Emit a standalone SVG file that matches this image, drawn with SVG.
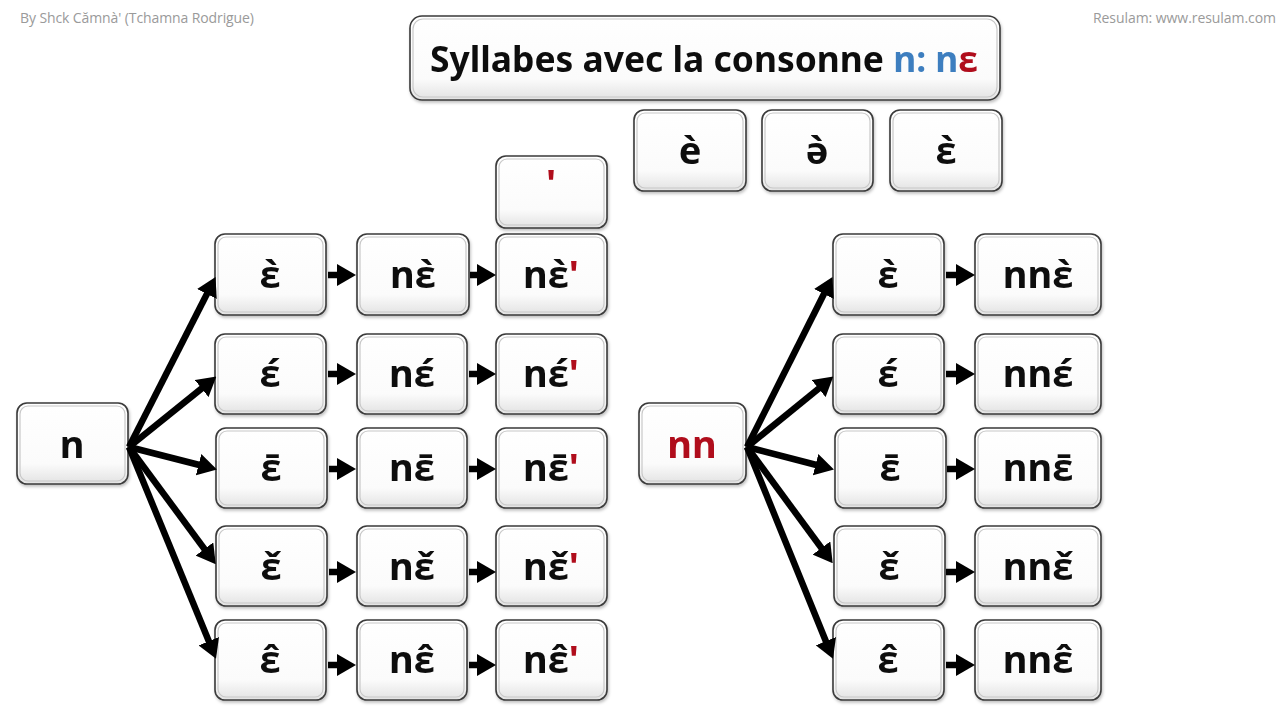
<svg xmlns="http://www.w3.org/2000/svg" width="1280" height="720" viewBox="0 0 1280 720">
<style>
.bx rect.o{fill:url(#g);stroke:#3a3a3a;stroke-width:1.6}
.bx rect.i{fill:none;stroke:#c8c8c8;stroke-width:1.2}
.t{font-family:"Noto Sans","DejaVu Sans",sans-serif;font-weight:bold;font-size:38px;fill:#111;text-anchor:middle}
.r{fill:#b0101e}
.b{fill:#3d7ebf}
.cr{font-family:"Open Sans","Liberation Sans",sans-serif;font-size:14px;fill:#9a9a9a}
.ar line{stroke:#000;stroke-width:6.5;marker-end:url(#ah)}
</style>
<defs>
<linearGradient id="g" x1="0" y1="0" x2="0" y2="1">
<stop offset="0" stop-color="#ffffff"/>
<stop offset="0.75" stop-color="#fbfbfb"/>
<stop offset="1" stop-color="#e2e2e2"/>
</linearGradient>
<filter id="sh" x="-10%" y="-10%" width="120%" height="130%">
<feDropShadow dx="1" dy="2" stdDeviation="1.5" flood-color="#000" flood-opacity="0.25"/>
</filter>
<marker id="ah" markerUnits="userSpaceOnUse" markerWidth="19" markerHeight="22" refX="5" refY="11" orient="auto" viewBox="0 0 19 22">
<path d="M0,0 L19,11 L0,22 z" fill="#000"/>
</marker>
</defs>
<rect width="1280" height="720" fill="#ffffff"/>
<text class="cr" x="20" y="23" textLength="234">By Shck Cămnà' (Tchamna Rodrigue)</text>
<text class="cr" x="1093" y="23" textLength="183">Resulam: www.resulam.com</text>

<g id="title" class="bx" filter="url(#sh)">
<rect class="o" x="410" y="16" width="590" height="84" rx="12"/>
<rect class="i" x="413" y="19" width="584" height="78" rx="10"/>
<text x="430" y="72" font-family="'Noto Sans','DejaVu Sans',sans-serif" font-weight="bold" font-size="35" fill="#111" textLength="548" lengthAdjust="spacingAndGlyphs">Syllabes avec la consonne <tspan class="b">n: n</tspan><tspan class="r">ɛ</tspan></text>
</g>

<g id="v1" class="bx" filter="url(#sh)"><rect class="o" x="634" y="110" width="112" height="81" rx="10"/><rect class="i" x="637" y="113" width="106" height="75" rx="8"/><text class="t" x="690" y="164">è</text></g>
<g id="v2" class="bx" filter="url(#sh)"><rect class="o" x="762" y="110" width="111" height="81" rx="10"/><rect class="i" x="765" y="113" width="105" height="75" rx="8"/><text class="t" x="817" y="164">ə̀</text></g>
<g id="v3" class="bx" filter="url(#sh)"><rect class="o" x="890" y="110" width="112" height="81" rx="10"/><rect class="i" x="893" y="113" width="106" height="75" rx="8"/><text class="t" x="946" y="164">ɛ̀</text></g>

<g id="apos" class="bx" filter="url(#sh)"><rect class="o" x="496" y="156" width="111" height="72" rx="10"/><rect class="i" x="499" y="159" width="105" height="66" rx="8"/><text class="t r" x="551" y="197">'</text></g>

<g id="n" class="bx" filter="url(#sh)"><rect class="o" x="17" y="403" width="111" height="81" rx="10"/><rect class="i" x="20" y="406" width="105" height="75" rx="8"/><text class="t" x="72" y="458">n</text></g>
<g id="nn" class="bx" filter="url(#sh)"><rect class="o" x="639" y="403" width="107" height="81" rx="10"/><rect class="i" x="642" y="406" width="101" height="75" rx="8"/><text class="t r" x="692" y="458">nn</text></g>

<!-- left column 1 -->
<g id="a1" class="bx" filter="url(#sh)"><rect class="o" x="215" y="234" width="111" height="81" rx="10"/><rect class="i" x="218" y="237" width="105" height="75" rx="8"/><text class="t" x="270" y="288">ɛ̀</text></g>
<g id="a2" class="bx" filter="url(#sh)"><rect class="o" x="215" y="334" width="111" height="80" rx="10"/><rect class="i" x="218" y="337" width="105" height="74" rx="8"/><text class="t" x="270" y="387">ɛ́</text></g>
<g id="a3" class="bx" filter="url(#sh)"><rect class="o" x="216" y="428" width="111" height="80" rx="10"/><rect class="i" x="219" y="431" width="105" height="74" rx="8"/><text class="t" x="271" y="481">ɛ̄</text></g>
<g id="a4" class="bx" filter="url(#sh)"><rect class="o" x="216" y="526" width="111" height="80" rx="10"/><rect class="i" x="219" y="529" width="105" height="74" rx="8"/><text class="t" x="271" y="580">ɛ̌</text></g>
<g id="a5" class="bx" filter="url(#sh)"><rect class="o" x="215" y="620" width="111" height="80" rx="10"/><rect class="i" x="218" y="623" width="105" height="74" rx="8"/><text class="t" x="270" y="673">ɛ̂</text></g>

<!-- left column 2 -->
<g id="b1" class="bx" filter="url(#sh)"><rect class="o" x="357" y="234" width="112" height="81" rx="10"/><rect class="i" x="360" y="237" width="106" height="75" rx="8"/><text class="t" x="413" y="288">nɛ̀</text></g>
<g id="b2" class="bx" filter="url(#sh)"><rect class="o" x="357" y="334" width="110" height="80" rx="10"/><rect class="i" x="360" y="337" width="104" height="74" rx="8"/><text class="t" x="412" y="387">nɛ́</text></g>
<g id="b3" class="bx" filter="url(#sh)"><rect class="o" x="357" y="428" width="110" height="80" rx="10"/><rect class="i" x="360" y="431" width="104" height="74" rx="8"/><text class="t" x="412" y="481">nɛ̄</text></g>
<g id="b4" class="bx" filter="url(#sh)"><rect class="o" x="357" y="526" width="110" height="80" rx="10"/><rect class="i" x="360" y="529" width="104" height="74" rx="8"/><text class="t" x="412" y="580">nɛ̌</text></g>
<g id="b5" class="bx" filter="url(#sh)"><rect class="o" x="357" y="620" width="110" height="80" rx="10"/><rect class="i" x="360" y="623" width="104" height="74" rx="8"/><text class="t" x="412" y="673">nɛ̂</text></g>

<!-- left column 3 -->
<g id="c1" class="bx" filter="url(#sh)"><rect class="o" x="496" y="234" width="111" height="81" rx="10"/><rect class="i" x="499" y="237" width="105" height="75" rx="8"/><text class="t" x="551" y="288">nɛ̀<tspan class="r">'</tspan></text></g>
<g id="c2" class="bx" filter="url(#sh)"><rect class="o" x="496" y="334" width="111" height="80" rx="10"/><rect class="i" x="499" y="337" width="105" height="74" rx="8"/><text class="t" x="551" y="387">nɛ́<tspan class="r">'</tspan></text></g>
<g id="c3" class="bx" filter="url(#sh)"><rect class="o" x="496" y="428" width="111" height="80" rx="10"/><rect class="i" x="499" y="431" width="105" height="74" rx="8"/><text class="t" x="551" y="481">nɛ̄<tspan class="r">'</tspan></text></g>
<g id="c4" class="bx" filter="url(#sh)"><rect class="o" x="496" y="526" width="111" height="80" rx="10"/><rect class="i" x="499" y="529" width="105" height="74" rx="8"/><text class="t" x="551" y="580">nɛ̌<tspan class="r">'</tspan></text></g>
<g id="c5" class="bx" filter="url(#sh)"><rect class="o" x="496" y="620" width="111" height="80" rx="10"/><rect class="i" x="499" y="623" width="105" height="74" rx="8"/><text class="t" x="551" y="673">nɛ̂<tspan class="r">'</tspan></text></g>

<!-- right vowel column -->
<g id="d1" class="bx" filter="url(#sh)"><rect class="o" x="833" y="234" width="111" height="81" rx="10"/><rect class="i" x="836" y="237" width="105" height="75" rx="8"/><text class="t" x="888" y="288">ɛ̀</text></g>
<g id="d2" class="bx" filter="url(#sh)"><rect class="o" x="833" y="334" width="111" height="80" rx="10"/><rect class="i" x="836" y="337" width="105" height="74" rx="8"/><text class="t" x="888" y="387">ɛ́</text></g>
<g id="d3" class="bx" filter="url(#sh)"><rect class="o" x="835" y="428" width="111" height="80" rx="10"/><rect class="i" x="838" y="431" width="105" height="74" rx="8"/><text class="t" x="890" y="481">ɛ̄</text></g>
<g id="d4" class="bx" filter="url(#sh)"><rect class="o" x="834" y="526" width="111" height="80" rx="10"/><rect class="i" x="837" y="529" width="105" height="74" rx="8"/><text class="t" x="889" y="580">ɛ̌</text></g>
<g id="d5" class="bx" filter="url(#sh)"><rect class="o" x="833" y="620" width="111" height="80" rx="10"/><rect class="i" x="836" y="623" width="105" height="74" rx="8"/><text class="t" x="888" y="673">ɛ̂</text></g>

<!-- right nn column -->
<g id="e1" class="bx" filter="url(#sh)"><rect class="o" x="975" y="234" width="126" height="81" rx="10"/><rect class="i" x="978" y="237" width="120" height="75" rx="8"/><text class="t" x="1038" y="288">nnɛ̀</text></g>
<g id="e2" class="bx" filter="url(#sh)"><rect class="o" x="975" y="334" width="126" height="80" rx="10"/><rect class="i" x="978" y="337" width="120" height="74" rx="8"/><text class="t" x="1038" y="387">nnɛ́</text></g>
<g id="e3" class="bx" filter="url(#sh)"><rect class="o" x="975" y="428" width="126" height="80" rx="10"/><rect class="i" x="978" y="431" width="120" height="74" rx="8"/><text class="t" x="1038" y="481">nnɛ̄</text></g>
<g id="e4" class="bx" filter="url(#sh)"><rect class="o" x="975" y="526" width="126" height="80" rx="10"/><rect class="i" x="978" y="529" width="120" height="74" rx="8"/><text class="t" x="1038" y="580">nnɛ̌</text></g>
<g id="e5" class="bx" filter="url(#sh)"><rect class="o" x="975" y="620" width="126" height="80" rx="10"/><rect class="i" x="978" y="623" width="120" height="74" rx="8"/><text class="t" x="1038" y="673">nnɛ̂</text></g>

<g id="connectors" class="ar">
<line x1="129" y1="447" x2="209.2" y2="289.5"/>
<line x1="129" y1="447" x2="205.5" y2="385.4"/>
<line x1="129" y1="447" x2="203.4" y2="466.0"/>
<line x1="129" y1="447" x2="207.4" y2="553.0"/>
<line x1="129" y1="447" x2="210.7" y2="645.8"/>
<line x1="747" y1="447" x2="826.2" y2="289.5"/>
<line x1="747" y1="447" x2="822.5" y2="385.4"/>
<line x1="747" y1="447" x2="820.4" y2="466.0"/>
<line x1="747" y1="447" x2="824.4" y2="552.0"/>
<line x1="747" y1="447" x2="827.7" y2="645.8"/>
<line x1="328" y1="275" x2="342" y2="275"/>
<line x1="328" y1="374" x2="342" y2="374"/>
<line x1="329" y1="469" x2="342" y2="469"/>
<line x1="329" y1="572" x2="342" y2="572"/>
<line x1="328" y1="665" x2="342" y2="665"/>
<line x1="470" y1="275" x2="482" y2="275"/>
<line x1="469" y1="374" x2="482" y2="374"/>
<line x1="469" y1="469" x2="482" y2="469"/>
<line x1="469" y1="572" x2="482" y2="572"/>
<line x1="469" y1="665" x2="482" y2="665"/>
<line x1="946" y1="275" x2="961" y2="275"/>
<line x1="946" y1="374" x2="961" y2="374"/>
<line x1="947" y1="469" x2="961" y2="469"/>
<line x1="946" y1="572" x2="961" y2="572"/>
<line x1="946" y1="665" x2="961" y2="665"/>
</g>
</svg>
